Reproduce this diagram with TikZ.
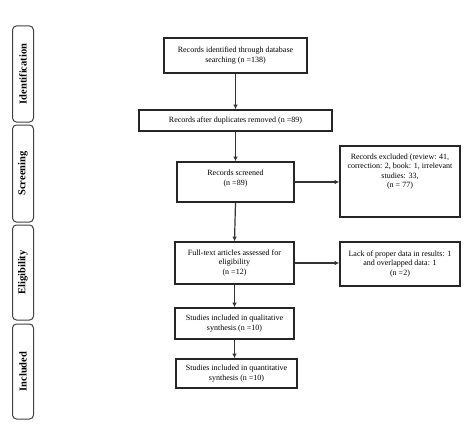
\documentclass[tikz,border=0pt]{standalone}
\usepackage{fontspec}
\setmainfont{Liberation Serif}
\usetikzlibrary{arrows.meta}
\begin{document}
\begin{tikzpicture}[x=1pt,y=-1pt,
  flowbox/.style={draw=black!85, line width=1.6pt, inner sep=0pt, align=center,
    font=\fontsize{8}{9.6}\selectfont},
  sidebox/.style={draw=black!75, line width=1pt, rounded corners=4pt, inner sep=0pt,
    minimum width=21pt, font=\fontsize{10.5}{12}\selectfont\bfseries},
  flowarrow/.style={draw=black!80, line width=1.2pt, -{Latex[length=4.5pt,width=4.5pt]}}]
\useasboundingbox (0,0) rectangle (474,436);
% side labels
\node[sidebox, minimum height=96pt] (sid) at (23,74) {\rotatebox{90}{Identification}};
\node[sidebox, minimum height=97pt] (ssc) at (23,173.5) {\rotatebox{90}{Screening}};
\node[sidebox, minimum height=95pt] (sel) at (23,272.5) {\rotatebox{90}{Eligibility}};
\node[sidebox, minimum height=95pt] (sin) at (23,371.5) {\rotatebox{90}{Included}};
% flow boxes
\node[flowbox, minimum width=143pt, minimum height=35pt] (b1) at (235.5,55.5)
  {Records identified through database\\searching (n =138)};
\node[flowbox, minimum width=193pt, minimum height=21pt] (b2) at (235.5,120.5)
  {Records after duplicates removed (n =89)};
\node[flowbox, minimum width=117pt, minimum height=40pt] (b3) at (235.5,182)
  {Records screened\\(n =89)\rule[-8pt]{0pt}{0pt}};
\node[flowbox, minimum width=120pt, minimum height=71pt] (ex) at (400,181.5)
  {\parbox[c][71pt][t]{118pt}{\centering\fontsize{8}{9.4}\selectfont
   \rule{0pt}{13.5pt}Records excluded (review: 41,\\correction: 2, book: 1, irrelevant\\studies: 33,\\(n = 77)}};
\node[flowbox, minimum width=119pt, minimum height=42pt] (b4) at (234.5,263)
  {Full-text articles assessed for\\eligibility\\(n =12)};
\node[flowbox, minimum width=120pt, minimum height=44pt] (lk) at (400,264)
  {Lack of proper data in results: 1\\and overlapped data: 1\\(n =2)};
\node[flowbox, minimum width=119pt, minimum height=31pt] (b5) at (234.5,323.5)
  {Studies included in qualitative\\synthesis (n =10)};
\node[flowbox, minimum width=121pt, minimum height=29pt] (b6) at (236.5,373.5)
  {Studies included in quantitative\\synthesis (n =10)};
% connectors
\draw[flowarrow] (b1.south) -- (b2.north);
\draw[flowarrow] (b2.south) -- (b3.north);
\draw[flowarrow] (b3.south) -- (b4.north);
\draw[flowarrow] (b4.south) -- (b5.north);
\draw[flowarrow] (b5.south) -- (b5.south |- b6.north);
\draw[flowarrow] (b3.east) -- (b3.east -| ex.west);
\draw[flowarrow] (b4.east) -- (b4.east -| lk.west);
\end{tikzpicture}
\end{document}
